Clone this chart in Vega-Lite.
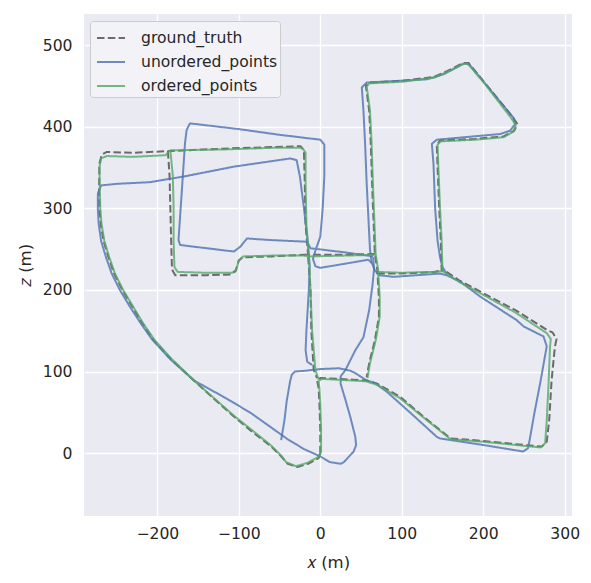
{
"$schema": "https://vega.github.io/schema/vega-lite/v6.json",
"width": 488, "height": 502,
"autosize": {"type": "none"},
"padding": {"left": 84, "top": 14, "right": 19, "bottom": 67},
"background": "white",
"config": {"view": {"fill": "#EAEAF2", "stroke": null}, "font": "DejaVu Sans"},
"data": {"values": [
{"s":"ground_truth","g":"g1","o":1,"x":0,"z":0},{"s":"ground_truth","g":"g1","o":2,"x":0,"z":30},{"s":"ground_truth","g":"g1","o":3,"x":-1,"z":60},{"s":"ground_truth","g":"g1","o":4,"x":-2,"z":80},{"s":"ground_truth","g":"g1","o":5,"x":-4,"z":90},{"s":"ground_truth","g":"g1","o":6,"x":0,"z":92},{"s":"ground_truth","g":"g1","o":7,"x":20,"z":91},{"s":"ground_truth","g":"g1","o":8,"x":40,"z":90},{"s":"ground_truth","g":"g1","o":9,"x":57,"z":89},{"s":"ground_truth","g":"g1","o":10,"x":70,"z":85},{"s":"ground_truth","g":"g1","o":11,"x":98,"z":69},{"s":"ground_truth","g":"g1","o":12,"x":130,"z":42},{"s":"ground_truth","g":"g1","o":13,"x":160,"z":18},{"s":"ground_truth","g":"g1","o":14,"x":200,"z":15},{"s":"ground_truth","g":"g1","o":15,"x":240,"z":11},{"s":"ground_truth","g":"g1","o":16,"x":272,"z":8},{"s":"ground_truth","g":"g1","o":17,"x":278,"z":14},{"s":"ground_truth","g":"g1","o":18,"x":281,"z":40},{"s":"ground_truth","g":"g1","o":19,"x":284,"z":90},{"s":"ground_truth","g":"g1","o":20,"x":288,"z":130},{"s":"ground_truth","g":"g1","o":21,"x":290,"z":140},{"s":"ground_truth","g":"g1","o":22,"x":285,"z":148},{"s":"ground_truth","g":"g1","o":23,"x":278,"z":151},{"s":"ground_truth","g":"g1","o":24,"x":240,"z":175},{"s":"ground_truth","g":"g1","o":25,"x":200,"z":196},{"s":"ground_truth","g":"g1","o":26,"x":170,"z":212},{"s":"ground_truth","g":"g1","o":27,"x":155,"z":222},{"s":"ground_truth","g":"g1","o":28,"x":149,"z":224},{"s":"ground_truth","g":"g1","o":29,"x":148,"z":260},{"s":"ground_truth","g":"g1","o":30,"x":146,"z":300},{"s":"ground_truth","g":"g1","o":31,"x":144,"z":350},{"s":"ground_truth","g":"g1","o":32,"x":143,"z":378},{"s":"ground_truth","g":"g1","o":33,"x":147,"z":383},{"s":"ground_truth","g":"g1","o":34,"x":190,"z":385},{"s":"ground_truth","g":"g1","o":35,"x":225,"z":388},{"s":"ground_truth","g":"g1","o":36,"x":238,"z":395},{"s":"ground_truth","g":"g1","o":37,"x":242,"z":403},{"s":"ground_truth","g":"g1","o":38,"x":236,"z":412},{"s":"ground_truth","g":"g1","o":39,"x":200,"z":456},{"s":"ground_truth","g":"g1","o":40,"x":182,"z":478},{"s":"ground_truth","g":"g1","o":41,"x":175,"z":478},{"s":"ground_truth","g":"g1","o":42,"x":160,"z":470},{"s":"ground_truth","g":"g1","o":43,"x":140,"z":461},{"s":"ground_truth","g":"g1","o":44,"x":100,"z":456},{"s":"ground_truth","g":"g1","o":45,"x":60,"z":454},{"s":"ground_truth","g":"g1","o":46,"x":56,"z":450},{"s":"ground_truth","g":"g1","o":47,"x":60,"z":420},{"s":"ground_truth","g":"g1","o":48,"x":62,"z":380},{"s":"ground_truth","g":"g1","o":49,"x":64,"z":320},{"s":"ground_truth","g":"g1","o":50,"x":66,"z":270},{"s":"ground_truth","g":"g1","o":51,"x":67,"z":244},{"s":"ground_truth","g":"g1","o":52,"x":70,"z":225},{"s":"ground_truth","g":"g1","o":53,"x":72,"z":190},{"s":"ground_truth","g":"g1","o":54,"x":72,"z":167},{"s":"ground_truth","g":"g1","o":55,"x":67,"z":138},{"s":"ground_truth","g":"g1","o":56,"x":60,"z":110},{"s":"ground_truth","g":"g1","o":57,"x":57,"z":93},
{"s":"ground_truth","g":"g2","o":1,"x":70,"z":220},{"s":"ground_truth","g":"g2","o":2,"x":100,"z":220},{"s":"ground_truth","g":"g2","o":3,"x":140,"z":222},{"s":"ground_truth","g":"g2","o":4,"x":149,"z":224},
{"s":"ground_truth","g":"g3","o":1,"x":67,"z":244},{"s":"ground_truth","g":"g3","o":2,"x":30,"z":243},{"s":"ground_truth","g":"g3","o":3,"x":-15,"z":243},{"s":"ground_truth","g":"g3","o":4,"x":-18,"z":280},{"s":"ground_truth","g":"g3","o":5,"x":-19,"z":330},{"s":"ground_truth","g":"g3","o":6,"x":-20,"z":370},{"s":"ground_truth","g":"g3","o":7,"x":-24,"z":376},{"s":"ground_truth","g":"g3","o":8,"x":-60,"z":375},{"s":"ground_truth","g":"g3","o":9,"x":-120,"z":373},{"s":"ground_truth","g":"g3","o":10,"x":-187,"z":370},{"s":"ground_truth","g":"g3","o":11,"x":-230,"z":368},{"s":"ground_truth","g":"g3","o":12,"x":-262,"z":369},{"s":"ground_truth","g":"g3","o":13,"x":-268,"z":366},{"s":"ground_truth","g":"g3","o":14,"x":-271,"z":355},{"s":"ground_truth","g":"g3","o":15,"x":-271.5,"z":322},{"s":"ground_truth","g":"g3","o":16,"x":-271,"z":300},{"s":"ground_truth","g":"g3","o":17,"x":-269.5,"z":281},{"s":"ground_truth","g":"g3","o":18,"x":-266,"z":260},{"s":"ground_truth","g":"g3","o":19,"x":-260,"z":240},{"s":"ground_truth","g":"g3","o":20,"x":-253,"z":220},{"s":"ground_truth","g":"g3","o":21,"x":-243,"z":200},{"s":"ground_truth","g":"g3","o":22,"x":-231,"z":180},{"s":"ground_truth","g":"g3","o":23,"x":-219,"z":160},{"s":"ground_truth","g":"g3","o":24,"x":-204,"z":138},{"s":"ground_truth","g":"g3","o":25,"x":-183,"z":115},{"s":"ground_truth","g":"g3","o":26,"x":-155,"z":89},{"s":"ground_truth","g":"g3","o":27,"x":-131,"z":67},{"s":"ground_truth","g":"g3","o":28,"x":-105,"z":44},{"s":"ground_truth","g":"g3","o":29,"x":-82,"z":25},{"s":"ground_truth","g":"g3","o":30,"x":-60,"z":8},{"s":"ground_truth","g":"g3","o":31,"x":-48,"z":-4},{"s":"ground_truth","g":"g3","o":32,"x":-40,"z":-13},{"s":"ground_truth","g":"g3","o":33,"x":-28,"z":-17},{"s":"ground_truth","g":"g3","o":34,"x":-15,"z":-13},{"s":"ground_truth","g":"g3","o":35,"x":-2,"z":-6},{"s":"ground_truth","g":"g3","o":36,"x":0,"z":0},
{"s":"ground_truth","g":"g4","o":1,"x":-187,"z":370},{"s":"ground_truth","g":"g4","o":2,"x":-185,"z":340},{"s":"ground_truth","g":"g4","o":3,"x":-184,"z":300},{"s":"ground_truth","g":"g4","o":4,"x":-183,"z":260},{"s":"ground_truth","g":"g4","o":5,"x":-182,"z":225},{"s":"ground_truth","g":"g4","o":6,"x":-178,"z":218},{"s":"ground_truth","g":"g4","o":7,"x":-140,"z":218},{"s":"ground_truth","g":"g4","o":8,"x":-110,"z":219},{"s":"ground_truth","g":"g4","o":9,"x":-104,"z":223},{"s":"ground_truth","g":"g4","o":10,"x":-100,"z":236},{"s":"ground_truth","g":"g4","o":11,"x":-95,"z":240},{"s":"ground_truth","g":"g4","o":12,"x":-60,"z":241},{"s":"ground_truth","g":"g4","o":13,"x":-20,"z":243},{"s":"ground_truth","g":"g4","o":14,"x":-15,"z":243},{"s":"ground_truth","g":"g4","o":15,"x":-12,"z":200},{"s":"ground_truth","g":"g4","o":16,"x":-11,"z":150},{"s":"ground_truth","g":"g4","o":17,"x":-8,"z":102},{"s":"ground_truth","g":"g4","o":18,"x":-4,"z":92},

{"s":"unordered_points","g":"u1","o":1,"x":-48,"z":16},{"s":"unordered_points","g":"u1","o":2,"x":-44,"z":40},{"s":"unordered_points","g":"u1","o":3,"x":-41,"z":65},{"s":"unordered_points","g":"u1","o":4,"x":-37,"z":88},{"s":"unordered_points","g":"u1","o":5,"x":-35,"z":96},{"s":"unordered_points","g":"u1","o":6,"x":-31,"z":100},{"s":"unordered_points","g":"u1","o":7,"x":-18,"z":101},{"s":"unordered_points","g":"u1","o":8,"x":0,"z":103},{"s":"unordered_points","g":"u1","o":9,"x":23,"z":104},{"s":"unordered_points","g":"u1","o":10,"x":37,"z":101},{"s":"unordered_points","g":"u1","o":11,"x":43,"z":98},{"s":"unordered_points","g":"u1","o":12,"x":57,"z":89},{"s":"unordered_points","g":"u1","o":13,"x":67,"z":86},{"s":"unordered_points","g":"u1","o":14,"x":82,"z":75},{"s":"unordered_points","g":"u1","o":15,"x":110,"z":50},{"s":"unordered_points","g":"u1","o":16,"x":143,"z":20},{"s":"unordered_points","g":"u1","o":17,"x":147,"z":18},{"s":"unordered_points","g":"u1","o":18,"x":200,"z":10},{"s":"unordered_points","g":"u1","o":19,"x":249,"z":2},{"s":"unordered_points","g":"u1","o":20,"x":255,"z":6},{"s":"unordered_points","g":"u1","o":21,"x":257,"z":16},{"s":"unordered_points","g":"u1","o":22,"x":263,"z":50},{"s":"unordered_points","g":"u1","o":23,"x":270,"z":86},{"s":"unordered_points","g":"u1","o":24,"x":278,"z":131},{"s":"unordered_points","g":"u1","o":25,"x":274,"z":143},{"s":"unordered_points","g":"u1","o":26,"x":250,"z":155},{"s":"unordered_points","g":"u1","o":27,"x":241,"z":163},{"s":"unordered_points","g":"u1","o":28,"x":196,"z":192},{"s":"unordered_points","g":"u1","o":29,"x":180,"z":204},{"s":"unordered_points","g":"u1","o":30,"x":172,"z":210},{"s":"unordered_points","g":"u1","o":31,"x":155,"z":218},{"s":"unordered_points","g":"u1","o":32,"x":147,"z":220},{"s":"unordered_points","g":"u1","o":33,"x":90,"z":216},{"s":"unordered_points","g":"u1","o":34,"x":72,"z":218},{"s":"unordered_points","g":"u1","o":35,"x":67,"z":224},{"s":"unordered_points","g":"u1","o":36,"x":63,"z":234},{"s":"unordered_points","g":"u1","o":37,"x":61,"z":250},{"s":"unordered_points","g":"u1","o":38,"x":59,"z":290},{"s":"unordered_points","g":"u1","o":39,"x":57,"z":330},{"s":"unordered_points","g":"u1","o":40,"x":55,"z":380},{"s":"unordered_points","g":"u1","o":41,"x":53,"z":420},{"s":"unordered_points","g":"u1","o":42,"x":51,"z":448},{"s":"unordered_points","g":"u1","o":43,"x":57,"z":454},{"s":"unordered_points","g":"u1","o":44,"x":131,"z":458},{"s":"unordered_points","g":"u1","o":45,"x":151,"z":464},{"s":"unordered_points","g":"u1","o":46,"x":176,"z":477},{"s":"unordered_points","g":"u1","o":47,"x":180,"z":477},{"s":"unordered_points","g":"u1","o":48,"x":184,"z":475},{"s":"unordered_points","g":"u1","o":49,"x":237,"z":411},{"s":"unordered_points","g":"u1","o":50,"x":239,"z":403},{"s":"unordered_points","g":"u1","o":51,"x":233,"z":395},{"s":"unordered_points","g":"u1","o":52,"x":221,"z":391},{"s":"unordered_points","g":"u1","o":53,"x":143,"z":384},{"s":"unordered_points","g":"u1","o":54,"x":137,"z":379},{"s":"unordered_points","g":"u1","o":55,"x":139,"z":354},{"s":"unordered_points","g":"u1","o":56,"x":141,"z":300},{"s":"unordered_points","g":"u1","o":57,"x":144,"z":260},{"s":"unordered_points","g":"u1","o":58,"x":147,"z":240},{"s":"unordered_points","g":"u1","o":59,"x":150,"z":228},{"s":"unordered_points","g":"u1","o":60,"x":155,"z":220},
{"s":"unordered_points","g":"u2","o":1,"x":-10,"z":108},{"s":"unordered_points","g":"u2","o":2,"x":-16,"z":112},{"s":"unordered_points","g":"u2","o":3,"x":-18,"z":126},{"s":"unordered_points","g":"u2","o":4,"x":-17,"z":150},{"s":"unordered_points","g":"u2","o":5,"x":-14,"z":200},{"s":"unordered_points","g":"u2","o":6,"x":-13,"z":230},{"s":"unordered_points","g":"u2","o":7,"x":-16,"z":265},{"s":"unordered_points","g":"u2","o":8,"x":-20,"z":300},{"s":"unordered_points","g":"u2","o":9,"x":-25,"z":339},{"s":"unordered_points","g":"u2","o":10,"x":-29,"z":359},{"s":"unordered_points","g":"u2","o":11,"x":-37,"z":361},{"s":"unordered_points","g":"u2","o":12,"x":-106,"z":351},{"s":"unordered_points","g":"u2","o":13,"x":-167,"z":339},{"s":"unordered_points","g":"u2","o":14,"x":-209,"z":332},{"s":"unordered_points","g":"u2","o":15,"x":-249,"z":330},{"s":"unordered_points","g":"u2","o":16,"x":-269,"z":328},{"s":"unordered_points","g":"u2","o":17,"x":-273,"z":318},{"s":"unordered_points","g":"u2","o":18,"x":-273,"z":300},{"s":"unordered_points","g":"u2","o":19,"x":-272,"z":281},{"s":"unordered_points","g":"u2","o":20,"x":-269,"z":260},{"s":"unordered_points","g":"u2","o":21,"x":-263,"z":240},{"s":"unordered_points","g":"u2","o":22,"x":-256,"z":220},{"s":"unordered_points","g":"u2","o":23,"x":-246,"z":200},{"s":"unordered_points","g":"u2","o":24,"x":-234,"z":180},{"s":"unordered_points","g":"u2","o":25,"x":-221,"z":160},{"s":"unordered_points","g":"u2","o":26,"x":-207,"z":140},{"s":"unordered_points","g":"u2","o":27,"x":-184,"z":115},{"s":"unordered_points","g":"u2","o":28,"x":-155,"z":89},{"s":"unordered_points","g":"u2","o":29,"x":-126,"z":73},{"s":"unordered_points","g":"u2","o":30,"x":-105,"z":61},{"s":"unordered_points","g":"u2","o":31,"x":-85,"z":49},{"s":"unordered_points","g":"u2","o":32,"x":-61,"z":32},{"s":"unordered_points","g":"u2","o":33,"x":-40,"z":17},{"s":"unordered_points","g":"u2","o":34,"x":-20,"z":5},{"s":"unordered_points","g":"u2","o":35,"x":0,"z":-4},{"s":"unordered_points","g":"u2","o":36,"x":12,"z":-11},{"s":"unordered_points","g":"u2","o":37,"x":25,"z":-13},{"s":"unordered_points","g":"u2","o":38,"x":29,"z":-11},{"s":"unordered_points","g":"u2","o":39,"x":41,"z":2},{"s":"unordered_points","g":"u2","o":40,"x":44,"z":10},{"s":"unordered_points","g":"u2","o":41,"x":43,"z":20},{"s":"unordered_points","g":"u2","o":42,"x":37,"z":44},{"s":"unordered_points","g":"u2","o":43,"x":31,"z":65},{"s":"unordered_points","g":"u2","o":44,"x":25,"z":85},{"s":"unordered_points","g":"u2","o":45,"x":25,"z":94},{"s":"unordered_points","g":"u2","o":46,"x":31,"z":102},{"s":"unordered_points","g":"u2","o":47,"x":43,"z":126},{"s":"unordered_points","g":"u2","o":48,"x":53,"z":142},{"s":"unordered_points","g":"u2","o":49,"x":60,"z":175},{"s":"unordered_points","g":"u2","o":50,"x":64,"z":205},{"s":"unordered_points","g":"u2","o":51,"x":66,"z":225},{"s":"unordered_points","g":"u2","o":52,"x":65,"z":240},
{"s":"unordered_points","g":"u3","o":1,"x":65,"z":241},{"s":"unordered_points","g":"u3","o":2,"x":30,"z":246},{"s":"unordered_points","g":"u3","o":3,"x":-12,"z":251},{"s":"unordered_points","g":"u3","o":4,"x":-16,"z":259},{"s":"unordered_points","g":"u3","o":5,"x":-60,"z":261},{"s":"unordered_points","g":"u3","o":6,"x":-90,"z":263},{"s":"unordered_points","g":"u3","o":7,"x":-98,"z":253},{"s":"unordered_points","g":"u3","o":8,"x":-106,"z":247},{"s":"unordered_points","g":"u3","o":9,"x":-172,"z":255},{"s":"unordered_points","g":"u3","o":10,"x":-174,"z":261},{"s":"unordered_points","g":"u3","o":11,"x":-170,"z":320},{"s":"unordered_points","g":"u3","o":12,"x":-166,"z":380},{"s":"unordered_points","g":"u3","o":13,"x":-164,"z":396},{"s":"unordered_points","g":"u3","o":14,"x":-160,"z":404},{"s":"unordered_points","g":"u3","o":15,"x":-100,"z":397},{"s":"unordered_points","g":"u3","o":16,"x":-50,"z":390},{"s":"unordered_points","g":"u3","o":17,"x":0,"z":384},{"s":"unordered_points","g":"u3","o":18,"x":5,"z":378},{"s":"unordered_points","g":"u3","o":19,"x":5,"z":340},{"s":"unordered_points","g":"u3","o":20,"x":3,"z":300},{"s":"unordered_points","g":"u3","o":21,"x":0,"z":265},{"s":"unordered_points","g":"u3","o":22,"x":-6,"z":248},{"s":"unordered_points","g":"u3","o":23,"x":-9,"z":238},{"s":"unordered_points","g":"u3","o":24,"x":-6,"z":229},{"s":"unordered_points","g":"u3","o":25,"x":0,"z":227},{"s":"unordered_points","g":"u3","o":26,"x":30,"z":232},{"s":"unordered_points","g":"u3","o":27,"x":59,"z":237},{"s":"unordered_points","g":"u3","o":28,"x":63,"z":233},

{"s":"ordered_points","g":"o1","o":1,"x":1,"z":1},{"s":"ordered_points","g":"o1","o":2,"x":1,"z":30},{"s":"ordered_points","g":"o1","o":3,"x":0,"z":60},{"s":"ordered_points","g":"o1","o":4,"x":-1,"z":80},{"s":"ordered_points","g":"o1","o":5,"x":-2,"z":88},{"s":"ordered_points","g":"o1","o":6,"x":2,"z":91},{"s":"ordered_points","g":"o1","o":7,"x":20,"z":90},{"s":"ordered_points","g":"o1","o":8,"x":40,"z":89},{"s":"ordered_points","g":"o1","o":9,"x":56,"z":88},{"s":"ordered_points","g":"o1","o":10,"x":69,"z":84},{"s":"ordered_points","g":"o1","o":11,"x":97,"z":68},{"s":"ordered_points","g":"o1","o":12,"x":130,"z":41},{"s":"ordered_points","g":"o1","o":13,"x":160,"z":17},{"s":"ordered_points","g":"o1","o":14,"x":200,"z":14},{"s":"ordered_points","g":"o1","o":15,"x":240,"z":10},{"s":"ordered_points","g":"o1","o":16,"x":270,"z":7},{"s":"ordered_points","g":"o1","o":17,"x":276,"z":12},{"s":"ordered_points","g":"o1","o":18,"x":278,"z":40},{"s":"ordered_points","g":"o1","o":19,"x":280,"z":80},{"s":"ordered_points","g":"o1","o":20,"x":282,"z":130},{"s":"ordered_points","g":"o1","o":21,"x":283,"z":140},{"s":"ordered_points","g":"o1","o":22,"x":278,"z":147},{"s":"ordered_points","g":"o1","o":23,"x":240,"z":172},{"s":"ordered_points","g":"o1","o":24,"x":200,"z":194},{"s":"ordered_points","g":"o1","o":25,"x":170,"z":210},{"s":"ordered_points","g":"o1","o":26,"x":155,"z":220},{"s":"ordered_points","g":"o1","o":27,"x":150,"z":223},{"s":"ordered_points","g":"o1","o":28,"x":149,"z":260},{"s":"ordered_points","g":"o1","o":29,"x":147,"z":300},{"s":"ordered_points","g":"o1","o":30,"x":145,"z":350},{"s":"ordered_points","g":"o1","o":31,"x":144,"z":378},{"s":"ordered_points","g":"o1","o":32,"x":148,"z":382},{"s":"ordered_points","g":"o1","o":33,"x":190,"z":384},{"s":"ordered_points","g":"o1","o":34,"x":225,"z":387},{"s":"ordered_points","g":"o1","o":35,"x":237,"z":394},{"s":"ordered_points","g":"o1","o":36,"x":240,"z":402},{"s":"ordered_points","g":"o1","o":37,"x":234,"z":411},{"s":"ordered_points","g":"o1","o":38,"x":200,"z":455},{"s":"ordered_points","g":"o1","o":39,"x":181,"z":477},{"s":"ordered_points","g":"o1","o":40,"x":175,"z":477},{"s":"ordered_points","g":"o1","o":41,"x":160,"z":469},{"s":"ordered_points","g":"o1","o":42,"x":140,"z":460},{"s":"ordered_points","g":"o1","o":43,"x":100,"z":455},{"s":"ordered_points","g":"o1","o":44,"x":60,"z":453},{"s":"ordered_points","g":"o1","o":45,"x":57,"z":449},{"s":"ordered_points","g":"o1","o":46,"x":61,"z":420},{"s":"ordered_points","g":"o1","o":47,"x":63,"z":380},{"s":"ordered_points","g":"o1","o":48,"x":65,"z":320},{"s":"ordered_points","g":"o1","o":49,"x":67,"z":270},{"s":"ordered_points","g":"o1","o":50,"x":68,"z":244},{"s":"ordered_points","g":"o1","o":51,"x":71,"z":225},{"s":"ordered_points","g":"o1","o":52,"x":73,"z":190},{"s":"ordered_points","g":"o1","o":53,"x":73,"z":167},{"s":"ordered_points","g":"o1","o":54,"x":68,"z":138},{"s":"ordered_points","g":"o1","o":55,"x":61,"z":110},{"s":"ordered_points","g":"o1","o":56,"x":58,"z":92},
{"s":"ordered_points","g":"o2","o":1,"x":71,"z":222},{"s":"ordered_points","g":"o2","o":2,"x":100,"z":221},{"s":"ordered_points","g":"o2","o":3,"x":140,"z":222},{"s":"ordered_points","g":"o2","o":4,"x":150,"z":223},
{"s":"ordered_points","g":"o3","o":1,"x":68,"z":243},{"s":"ordered_points","g":"o3","o":2,"x":30,"z":242},{"s":"ordered_points","g":"o3","o":3,"x":-14,"z":241},{"s":"ordered_points","g":"o3","o":4,"x":-17,"z":280},{"s":"ordered_points","g":"o3","o":5,"x":-18,"z":330},{"s":"ordered_points","g":"o3","o":6,"x":-18,"z":368},{"s":"ordered_points","g":"o3","o":7,"x":-22,"z":374},{"s":"ordered_points","g":"o3","o":8,"x":-60,"z":374},{"s":"ordered_points","g":"o3","o":9,"x":-120,"z":372},{"s":"ordered_points","g":"o3","o":10,"x":-184,"z":371},{"s":"ordered_points","g":"o3","o":11,"x":-190,"z":365},{"s":"ordered_points","g":"o3","o":12,"x":-230,"z":363},{"s":"ordered_points","g":"o3","o":13,"x":-262,"z":364},{"s":"ordered_points","g":"o3","o":14,"x":-269,"z":361},{"s":"ordered_points","g":"o3","o":15,"x":-271,"z":350},{"s":"ordered_points","g":"o3","o":16,"x":-270.5,"z":322},{"s":"ordered_points","g":"o3","o":17,"x":-270,"z":300},{"s":"ordered_points","g":"o3","o":18,"x":-268.5,"z":281},{"s":"ordered_points","g":"o3","o":19,"x":-265,"z":260},{"s":"ordered_points","g":"o3","o":20,"x":-259,"z":240},{"s":"ordered_points","g":"o3","o":21,"x":-252,"z":220},{"s":"ordered_points","g":"o3","o":22,"x":-242,"z":200},{"s":"ordered_points","g":"o3","o":23,"x":-230,"z":180},{"s":"ordered_points","g":"o3","o":24,"x":-218,"z":160},{"s":"ordered_points","g":"o3","o":25,"x":-203,"z":138},{"s":"ordered_points","g":"o3","o":26,"x":-182,"z":115},{"s":"ordered_points","g":"o3","o":27,"x":-155,"z":89},{"s":"ordered_points","g":"o3","o":28,"x":-130,"z":67},{"s":"ordered_points","g":"o3","o":29,"x":-105,"z":45},{"s":"ordered_points","g":"o3","o":30,"x":-81,"z":26},{"s":"ordered_points","g":"o3","o":31,"x":-60,"z":9},{"s":"ordered_points","g":"o3","o":32,"x":-48,"z":-3},{"s":"ordered_points","g":"o3","o":33,"x":-42,"z":-11},{"s":"ordered_points","g":"o3","o":34,"x":-30,"z":-16},{"s":"ordered_points","g":"o3","o":35,"x":-16,"z":-12},{"s":"ordered_points","g":"o3","o":36,"x":-3,"z":-5},{"s":"ordered_points","g":"o3","o":37,"x":1,"z":1},
{"s":"ordered_points","g":"o4","o":1,"x":-184,"z":371},{"s":"ordered_points","g":"o4","o":2,"x":-181,"z":340},{"s":"ordered_points","g":"o4","o":3,"x":-180,"z":300},{"s":"ordered_points","g":"o4","o":4,"x":-180,"z":260},{"s":"ordered_points","g":"o4","o":5,"x":-179,"z":228},{"s":"ordered_points","g":"o4","o":6,"x":-175,"z":222},{"s":"ordered_points","g":"o4","o":7,"x":-140,"z":221},{"s":"ordered_points","g":"o4","o":8,"x":-108,"z":221},{"s":"ordered_points","g":"o4","o":9,"x":-103,"z":225},{"s":"ordered_points","g":"o4","o":10,"x":-100,"z":236},{"s":"ordered_points","g":"o4","o":11,"x":-95,"z":241},{"s":"ordered_points","g":"o4","o":12,"x":-60,"z":242},{"s":"ordered_points","g":"o4","o":13,"x":-20,"z":242},{"s":"ordered_points","g":"o4","o":14,"x":-14,"z":241},{"s":"ordered_points","g":"o4","o":15,"x":-12,"z":200},{"s":"ordered_points","g":"o4","o":16,"x":-10,"z":150},{"s":"ordered_points","g":"o4","o":17,"x":-6,"z":102},{"s":"ordered_points","g":"o4","o":18,"x":-2,"z":90}
]},
"mark": {"type": "line", "strokeWidth": 2, "strokeOpacity": 0.8, "strokeJoin": "round", "clip": true},
"encoding": {
"x": {"field": "x", "type": "quantitative", "scale": {"domain": [-290, 309], "nice": false, "zero": false},
 "axis": {"values": [-200, -100, 0, 100, 200, 300], "title": "𝑥 (m)", "grid": true, "gridColor": "white", "gridWidth": 1.3, "domain": false, "ticks": false, "labelPadding": 10, "labelFontSize": 15.6, "labelColor": "#262626", "titleFontSize": 16.5, "titleFontWeight": "normal", "titleColor": "#262626", "titlePadding": 13}},
"y": {"field": "z", "type": "quantitative", "scale": {"domain": [-77, 538], "nice": false, "zero": false},
 "axis": {"values": [0, 100, 200, 300, 400, 500], "title": "𝑧 (m)", "grid": true, "gridColor": "white", "gridWidth": 1.3, "domain": false, "ticks": false, "labelPadding": 12, "labelFontSize": 15.6, "labelColor": "#262626", "titleFontSize": 16.5, "titleFontWeight": "normal", "titleColor": "#262626", "titlePadding": 9}},
"color": {"field": "s", "type": "nominal", "scale": {"domain": ["ground_truth", "unordered_points", "ordered_points"], "range": ["#4a4a4a", "#4C72B0", "#55A868"]},
 "legend": {"title": null, "orient": "none", "legendX": 6, "legendY": 7, "fillColor": "#F3F3F7", "strokeColor": "#CCCCCC", "cornerRadius": 3, "padding": 2, "labelFontSize": 15.6, "labelColor": "#262626", "symbolType": "stroke", "symbolSize": 784, "symbolStrokeWidth": 2, "symbolOpacity": 0.8, "rowPadding": -4.5, "symbolOffset": 4, "labelOffset": 15}},
"strokeDash": {"field": "s", "type": "nominal", "scale": {"domain": ["ground_truth", "unordered_points", "ordered_points"], "range": [[7.5, 3.3], [1, 0], [1, 0]]},
 "legend": {"title": null, "orient": "none", "legendX": 6, "legendY": 7, "fillColor": "#F3F3F7", "strokeColor": "#CCCCCC", "cornerRadius": 3, "padding": 2, "labelFontSize": 15.6, "labelColor": "#262626", "symbolType": "stroke", "symbolSize": 784, "symbolStrokeWidth": 2, "symbolOpacity": 0.8, "rowPadding": -4.5, "symbolOffset": 4, "labelOffset": 15}},
"detail": {"field": "g"},
"order": {"field": "o", "type": "quantitative"}
}
}
